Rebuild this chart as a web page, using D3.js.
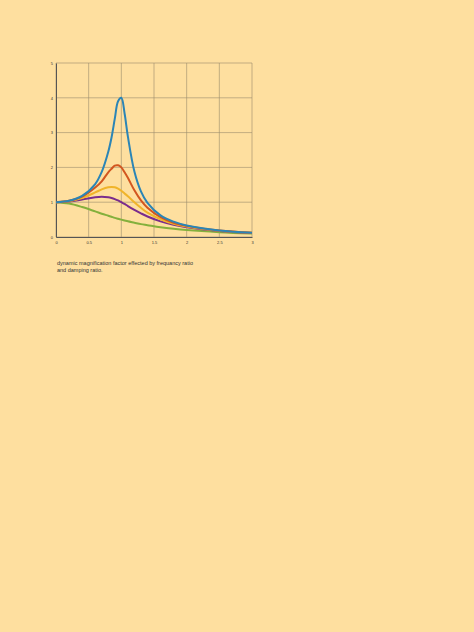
<!DOCTYPE html><html><head><meta charset="utf-8">
<script src="https://cdn.jsdelivr.net/npm/d3@7"></script>
<style>body{margin:0;background:#fedf9f}</style></head><body>
<svg id="c" width="474" height="632"></svg>
<script>
const ratios = [0,0.2,0.4,0.6,0.7,0.8,0.85,0.9,0.95,1.0,1.05,1.1,1.2,1.3,1.4,1.6,1.8,2.0,2.5,3.0];
const zeta0125 = [1,1.04,1.18,1.52,1.87,2.45,2.86,3.40,3.90,4.0,3.55,2.89,1.88,1.31,0.98,0.62,0.44,0.33,0.19,0.125];
const zeta025  = [1,1.04,1.16,1.42,1.6,1.86,1.96,2.05,2.06,2.0,1.86,1.70,1.34,1.05,0.84,0.57,0.41,0.32,0.185,0.123];
const zeta0375 = [1,1.03,1.12,1.28,1.37,1.43,1.44,1.43,1.39,1.33,1.25,1.17,1.0,0.84,0.70,0.51,0.38,0.30,0.18,0.12];
const zeta05   = [1,1.02,1.075,1.14,1.155,1.14,1.12,1.09,1.05,1.0,0.95,0.89,0.78,0.68,0.59,0.45,0.35,0.28,0.17,0.117];
const zeta1    = [1,0.96,0.86,0.735,0.67,0.61,0.58,0.55,0.525,0.5,0.475,0.45,0.41,0.37,0.34,0.28,0.235,0.2,0.14,0.1];
const xTicks = [0,0.5,1,1.5,2,2.5,3];
const yTicks = [0,1,2,3,4,5];
const series = [
  {v:zeta1, c:"#84b03c"},{v:zeta05, c:"#7a2c8c"},{v:zeta0375, c:"#f0b42a"},
  {v:zeta025, c:"#d2561f"},{v:zeta0125, c:"#2b85b6"}];
const svg=d3.select("#c");
const x=d3.scaleLinear().domain([0,3]).range([56,252]);
const y=d3.scaleLinear().domain([0,5]).range([237,63]);
const g=svg.append("g");
g.selectAll(".vx").data(xTicks).join("line").attr("x1",d=>x(d)).attr("x2",d=>x(d)).attr("y1",y(0)).attr("y2",y(5)).attr("stroke","#9a8c6c").attr("stroke-width",0.6);
g.selectAll(".hy").data(yTicks).join("line").attr("y1",d=>y(d)).attr("y2",d=>y(d)).attr("x1",x(0)).attr("x2",x(3)).attr("stroke","#9a8c6c").attr("stroke-width",0.6);
svg.append("g").attr("transform",`translate(0,${y(0)})`).call(d3.axisBottom(x).tickValues(xTicks).tickSize(0).tickPadding(4).tickFormat(d3.format("")))
 .call(a=>{a.select(".domain").attr("stroke","#555");a.selectAll("text").attr("font-size",4).attr("font-family","Liberation Sans").attr("fill","#333");});
svg.append("g").attr("transform",`translate(${x(0)},0)`).call(d3.axisLeft(y).tickValues(yTicks).tickSize(0).tickPadding(3).tickFormat(d3.format("")))
 .call(a=>{a.select(".domain").attr("stroke","#555");a.selectAll("text").attr("font-size",4).attr("font-family","Liberation Sans").attr("fill","#333");});
const line=d3.line().x((d,i)=>x(ratios[i])).y(d=>y(d)).curve(d3.curveCatmullRom.alpha(0.5));
svg.selectAll(".s").data(series).join("path").attr("d",d=>line(d.v)).attr("fill","none").attr("stroke",d=>d.c).attr("stroke-width",2);
const t=svg.append("text").attr("font-family","Liberation Sans Narrow, Liberation Sans").attr("font-size",5.5).attr("fill","#333");
t.append("tspan").attr("x",57).attr("y",265).text("dynamic magnification factor effected by frequancy ratio");
t.append("tspan").attr("x",57).attr("y",272).text("and damping ratio.");
</script></body></html>
